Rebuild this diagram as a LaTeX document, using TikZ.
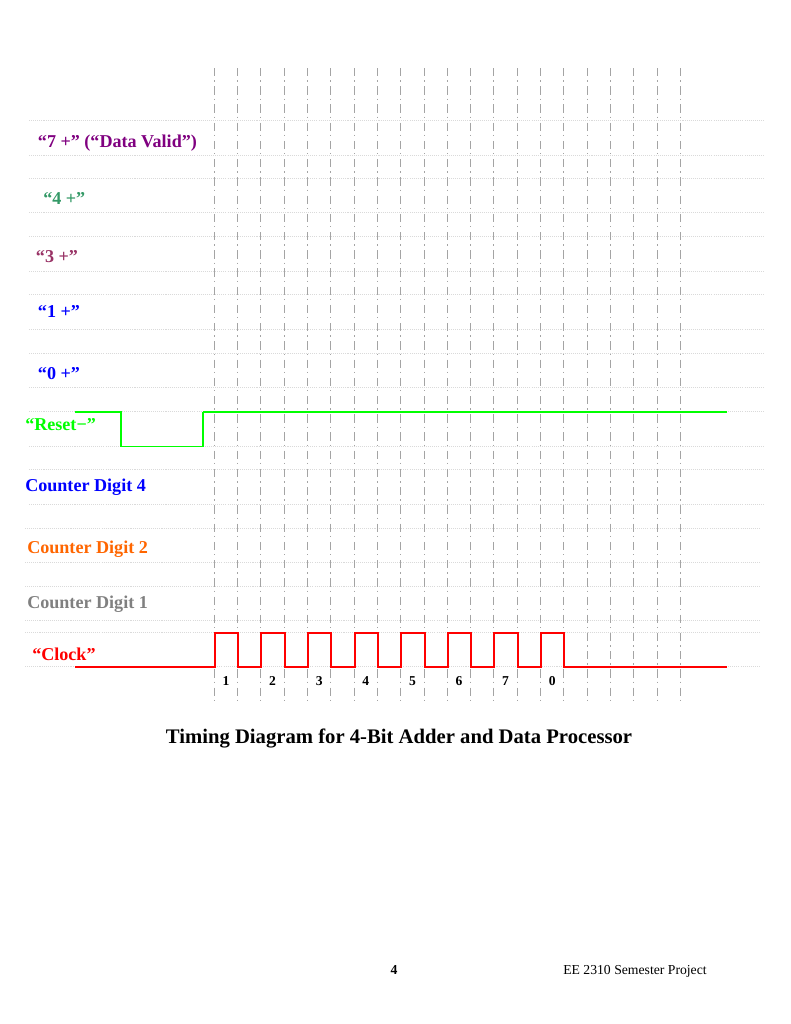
\documentclass[tikz,border=0pt]{standalone}
\usepackage{fontspec}
\setmainfont{Liberation Serif}
\definecolor{cpurple}{HTML}{800080}
\definecolor{cseagreen}{HTML}{339966}
\definecolor{cplum}{HTML}{993366}
\definecolor{cblue}{HTML}{0000FF}
\definecolor{cgreen}{HTML}{00FF00}
\definecolor{corange}{HTML}{FF6600}
\definecolor{cgray}{HTML}{808080}
\definecolor{cred}{HTML}{FF0000}
\definecolor{gridgray}{HTML}{A4A4A4}
\definecolor{dotgray}{HTML}{DADADA}
\begin{document}
\begin{tikzpicture}[x=0.77370pt,y=-0.77370pt,
  gridv/.style={draw=gridgray,line width=0.8pt,dash pattern=on 6.4pt off 3.1pt on 1pt off 3.6pt},
  gridh/.style={draw=dotgray,line width=0.6pt,dash pattern=on 0.8pt off 0.8pt},
  siglabel/.style={anchor=base west,inner sep=0pt,font=\fontsize{14}{16}\selectfont\bfseries},
  numlabel/.style={anchor=base,inner sep=0pt,font=\fontsize{10.5}{12}\selectfont\bfseries},
  wave/.style={line width=1.5pt,line join=miter}]
\fill[white] (0,0) rectangle (791,1024);
\useasboundingbox (0,0) rectangle (791,1024);
% horizontal dotted guides
\foreach \y in {120.5,155.5,178.5,212.5,236.5,271.5,294.5,329.5,353.5,387.5,411.5,446.5,469.5,504.5}
  \draw[gridh] (29,\y) -- (764,\y);
\foreach \y in {528.5,562.5,586.5,620.5,632.5,666.5}
  \draw[gridh] (25,\y) -- (761,\y);
% vertical dash-dot guides
\foreach \i in {0,...,20}
  \draw[gridv] ({int(214.3+23.3*\i)+0.5},68) -- ({int(214.3+23.3*\i)+0.5},701);
% signal labels
\node[siglabel,text=cpurple] (dv) at (37.7,147.5) {“7 +” (“Data Valid”)};
\node[siglabel,text=cseagreen] (s4) at (43,204) {“4 +”};
\node[siglabel,text=cplum] (s3) at (35.7,262.7) {“3 +”};
\node[siglabel,text=cblue] (s1) at (37.7,317.3) {“1 +”};
\node[siglabel,text=cblue] (s0) at (37.7,379.3) {“0 +”};
\node[siglabel,text=cgreen] (rst) at (25,430) {“Reset−”};
\node[siglabel,text=cblue] (cd4) at (25,491.7) {Counter Digit 4};
\node[siglabel,text=corange] (cd2) at (27,553.3) {Counter Digit 2};
\node[siglabel,text=cgray] (cd1) at (27,608.3) {Counter Digit 1};
\node[siglabel,text=cred] (clk) at (32,660) {“Clock”};
% reset waveform
\draw[wave,color=cgreen] (75,412) -- (121,412) -- (121,446.5) -- (203,446.5) -- (203,412);
\draw[wave,color=cgreen] (202.5,412) -- (726.7,412);
% clock waveform
\draw[wave,color=cred] (75,667)
  \foreach \k in {0,...,7} { -- ({int(214.3+46.6*\k)+1},667) -- ++(0,-34) -- ({int(237.6+46.6*\k)+1},633) -- ++(0,34) }
  -- (726.7,667);
% clock numbers
\foreach \t [count=\k from 0] in {1,2,3,4,5,6,7,0}
  \node[numlabel] (n\k) at ({226+46.6*\k},685.7) {\t};
% title and footer
\node[anchor=base,inner sep=0pt,font=\fontsize{16}{19}\selectfont\bfseries] (title) at (399,743) {Timing Diagram for 4-Bit Adder and Data Processor};
\node[anchor=base,inner sep=0pt,font=\fontsize{10.6}{12}\selectfont\bfseries] (pg) at (394,974) {4};
\node[anchor=base west,inner sep=0pt,font=\fontsize{10.6}{12}\selectfont] (ft) at (563,974) {EE 2310 Semester Project};
\end{tikzpicture}
\end{document}
